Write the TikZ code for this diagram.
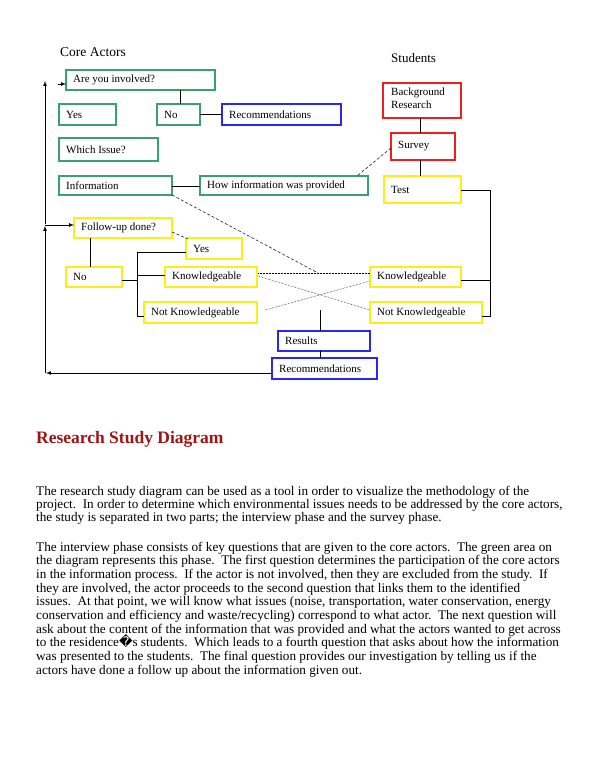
\documentclass[tikz,border=0pt]{standalone}
\usepackage{fontspec}
\setmainfont{Liberation Serif}
\begin{document}
\begin{tikzpicture}[x=1pt,y=-1pt,
 ln/.style={line width=0.7pt},
 ds/.style={densely dashed,line width=0.5pt},
 dt/.style={densely dotted,line width=0.5pt},
 ar/.style={line width=0.7pt,-latex},
 lab/.style={anchor=west,inner sep=0pt,font=\fontsize{11}{12}\selectfont},
 body/.style={anchor=base west,inner sep=0pt,font=\fontsize{13.2}{14}\selectfont}]
\useasboundingbox (0,0) rectangle (600,776);
\definecolor{gr}{RGB}{60,160,110}\definecolor{bl}{RGB}{40,40,240}
\definecolor{rd}{RGB}{240,30,30}\definecolor{yl}{RGB}{250,240,20}
\definecolor{dr}{RGB}{160,20,20}
\node[anchor=west,inner sep=0pt,font=\fontsize{13.5}{15}\selectfont] (ca) at (60,52) {Core Actors};
\node[anchor=west,inner sep=0pt,font=\fontsize{13}{15}\selectfont] (st) at (391,58) {Students};
\foreach \n/\c/\xa/\ya/\xb/\yb/\t in {
 inv/gr/66/70/215/90/Are you involved?,
 yes1/gr/59/104/116/125/Yes,
 no1/gr/157/104/200/125/No,
 rec1/bl/222/104/341/125/Recommendations,
 wi/gr/59/138/158/161/Which Issue?,
 info/gr/59/176/172/195/Information,
 how/gr/200/176/368/195/How information was provided,
 sur/rd/391/133/455/160/Survey,
 test/yl/384/176/461/203/Test,
 fol/yl/74/218/172/238/Follow-up done?,
 yes2/yl/186/238/242/259/Yes,
 no2/yl/66/267/122/287/No,
 kl/yl/165/267/257/287/Knowledgeable,
 nkl/yl/144/302/257/323/Not Knowledgeable,
 kr/yl/370/267/461/287/Knowledgeable,
 nkr/yl/370/302/482/323/Not Knowledgeable,
 res/bl/278/331/370/351/Results,
 rec2/bl/272/358/377/379/Recommendations}
 {\draw[\c,line width=1.2pt] (\xa,\ya) rectangle (\xb,\yb);
  \node[lab] (\n) at (\xa+7,{(\ya+\yb)/2}) {\t};}
\draw[rd,line width=1.2pt] (383,83) rectangle (461,118);
\node[anchor=north west,inner sep=0pt,align=left,font=\fontsize{11}{13}\selectfont] (bg) at (391,88) {Background\\Research};
\coordinate (invb) at (180,90); \coordinate (no1t) at (180,104);
\draw[ln] (invb)--(no1t);
\draw[ln] (200,114)--(222,114);
\draw[ln] (172,186)--(200,186);
\draw[ln] (420,118)--(420,133); \draw[ln] (420,160)--(420,176);
\draw[ds] (391,148)--(357,176);
\draw[ln] (461,190)--(490,190)--(490,316)--(482,316);
\draw[ln] (461,280)--(490,280);
\draw[ln] (90,238)--(90,267);
\draw[ln] (122,280)--(137,280);
\draw[ln] (186,252)--(137,252)--(137,316)--(144,316);
\draw[ln] (137,275)--(165,275);
\draw[ds] (172,232)--(188,239);
\draw[ds] (172,195)--(318,273);
\draw[dt] (258,273)--(370,273);
\draw[dt] (258,276)--(370,310);
\draw[dt] (265,310)--(370,281);
\draw[ln] (320,310)--(320,331); \draw[ln] (320,351)--(320,358);
\draw[ar] (272,373)--(46,373);
\draw[ln] (45,373)--(45,228); \draw[ar] (45,260)--(45,226);
\draw[ar] (45,224)--(45,81);
\draw[ar] (45,225)--(74,225);
\draw[ar] (58,84)--(66,84);
\node[anchor=base west,inner sep=0pt,text=dr,font=\bfseries\fontsize{17.5}{19}\selectfont] (h) at (36,443) {Research Study Diagram};
\foreach \y/\t in {
495/{The research study diagram can be used as a tool in order to visualize the methodology of the},
508/{project.\ \ In order to determine which environmental issues needs to be addressed by the core actors,},
521/{the study is separated in two parts; the interview phase and the survey phase.},
551/{The interview phase consists of key questions that are given to the core actors.\ \ The green area on},
564/{the diagram represents this phase.\ \ The first question determines the participation of the core actors},
578/{in the information process.\ \ If the actor is not involved, then they are excluded from the study.\ \ If},
592/{they are involved, the actor proceeds to the second question that links them to the identified},
605/{issues.\ \ At that point, we will know what issues (noise, transportation, water conservation, energy},
619/{conservation and efficiency and waste/recycling) correspond to what actor.\ \ The next question will},
633/{ask about the content of the information that was provided and what the actors wanted to get across},
646/{to the residence{\fontspec{DejaVu Sans}\char"FFFD}s students.\ \ Which leads to a fourth question that asks about how the information},
660/{was presented to the students.\ \ The final question provides our investigation by telling us if the},
674/{actors have done a follow up about the information given out.}}
 {\node[body] at (36,\y) {\t};}
\end{tikzpicture}
\end{document}
